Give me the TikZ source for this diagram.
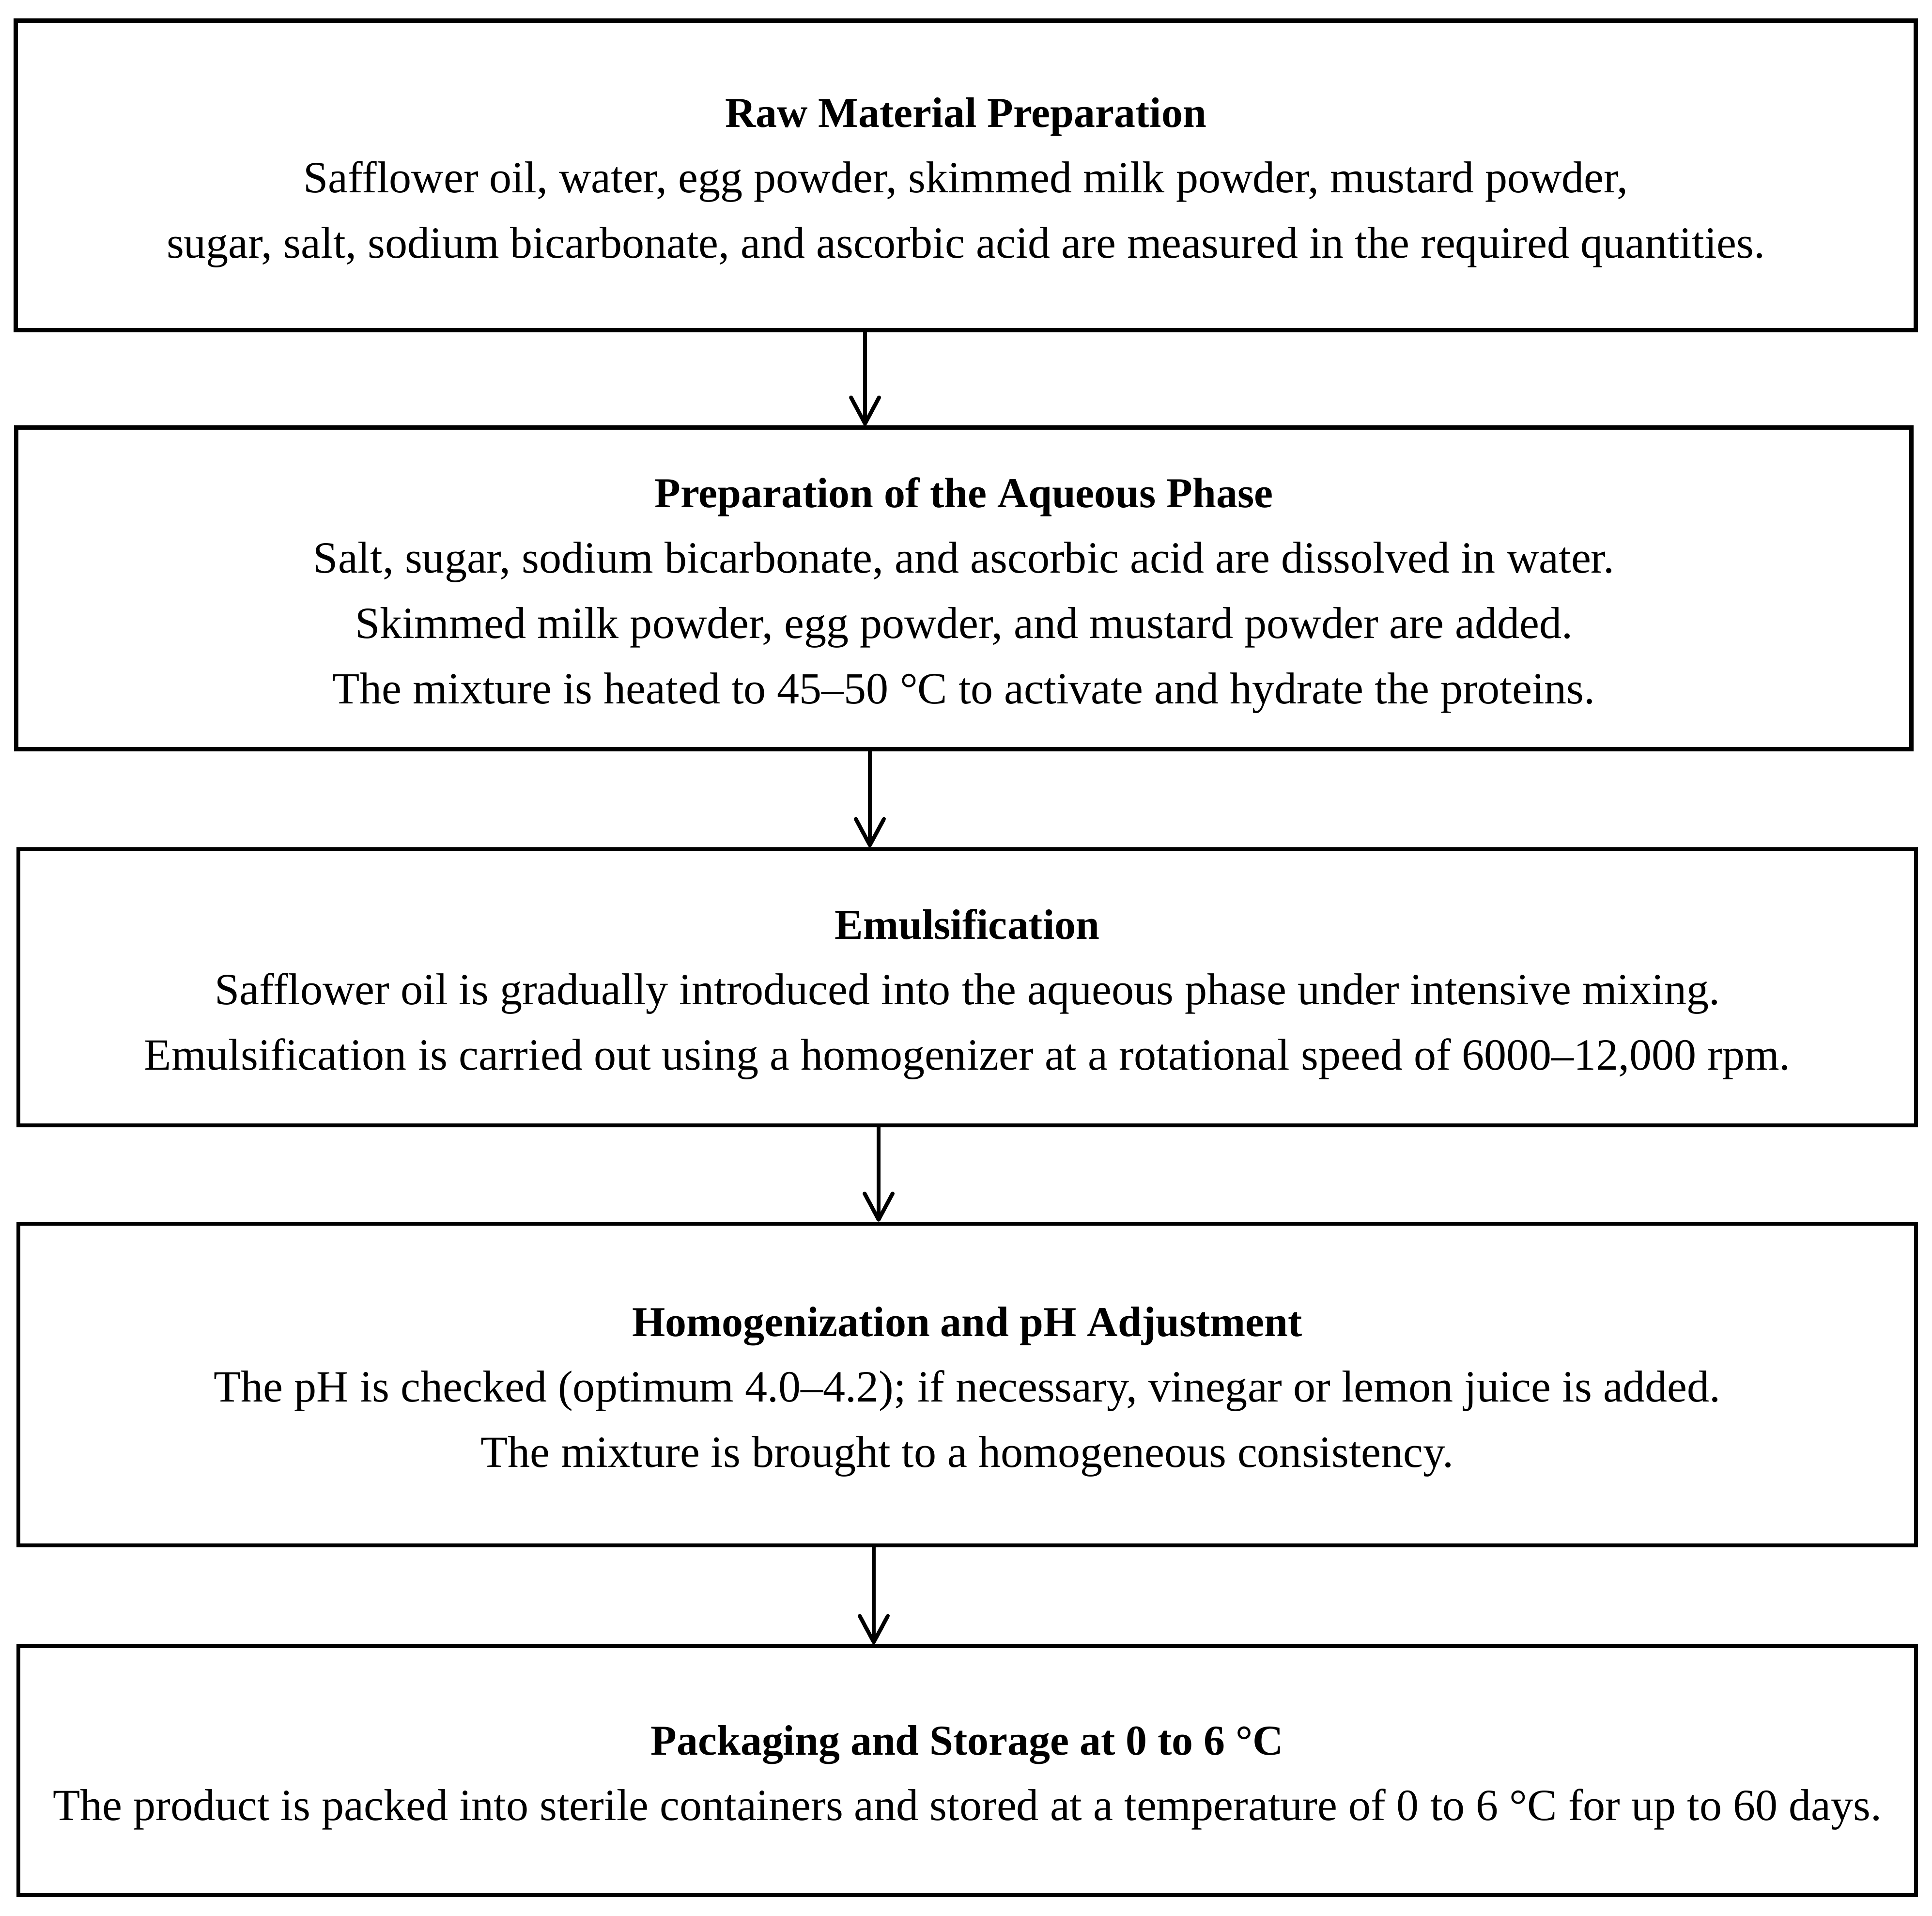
\documentclass[tikz,border=0pt]{standalone}
\usepackage{fontspec}
\setmainfont{Liberation Serif}
\usetikzlibrary{arrows.meta}
\newcommand{\steptitle}[1]{{\fontsize{12.5}{19.2}\selectfont\bfseries\rule{0pt}{12.8pt}#1}}

\begin{document}
\begin{tikzpicture}[
	stage/.style={draw, line width=1.25pt, align=center, inner sep=0pt, font=\fontsize{13.1}{19.2}\selectfont},
	flow/.style={line width=1.15pt, line cap=round, -{Straight Barb[length=2.7mm, width=2.9mm, round]}}
]
\useasboundingbox (0,0) rectangle (19.945,-19.77);
\node[stage, minimum width=19.615cm, minimum height=3.193cm] (raw) at (9.97,-1.81) {\steptitle{Raw Material Preparation}\\
	Safflower oil, water, egg powder, skimmed milk powder, mustard powder,\\
	sugar, salt, sodium bicarbonate, and ascorbic acid are measured in the required quantities.};
\node[stage, minimum width=19.565cm, minimum height=3.32cm] (aqueous) at (9.95,-6.074) {\steptitle{Preparation of the Aqueous Phase}\\
	Salt, sugar, sodium bicarbonate, and ascorbic acid are dissolved in water.\\
	Skimmed milk powder, egg powder, and mustard powder are added.\\
	The mixture is heated to 45–50 °C to activate and hydrate the proteins.};
\node[stage, minimum width=19.59cm, minimum height=2.85cm] (emuls) at (9.985,-10.19) {\steptitle{Emulsification}\\
	Safflower oil is gradually introduced into the aqueous phase under intensive mixing.\\
	Emulsification is carried out using a homogenizer at a rotational speed of 6000–12,000 rpm.};
\node[stage, minimum width=19.59cm, minimum height=3.32cm] (homog) at (9.985,-14.29) {\steptitle{Homogenization and pH Adjustment}\\
	The pH is checked (optimum 4.0–4.2); if necessary, vinegar or lemon juice is added.\\
	The mixture is brought to a homogeneous consistency.};
\node[stage, minimum width=19.59cm, minimum height=2.57cm] (storage) at (9.985,-18.275) {\steptitle{Packaging and Storage at 0 to 6 °C}\\
	The product is packed into sterile containers and stored at a temperature of 0 to 6 °C for up to 60 days.};
\foreach \from/\to/\dx in {raw/aqueous/-1.04, aqueous/emuls/-0.97, emuls/homog/-0.915, homog/storage/-0.965} {
	\draw[flow] ([xshift=\dx cm]\from.south) -- ([xshift=\dx cm]\from.south |- \to.north);
	};
\end{tikzpicture}
\end{document}
